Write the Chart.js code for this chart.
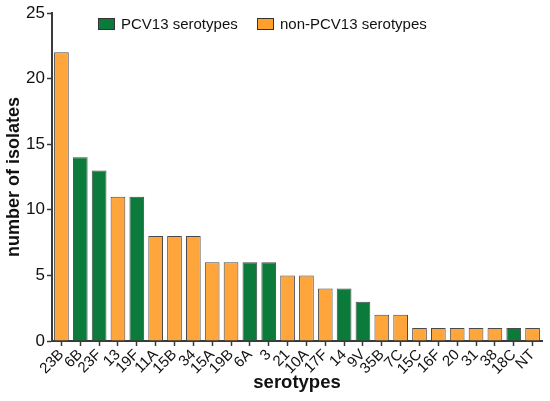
<!DOCTYPE html>
<html>
<head>
<meta charset="utf-8">
<script src="https://cdn.jsdelivr.net/npm/chart.js@4"></script>
<style>
  body { margin: 0; background: #fff; font-family: "Liberation Sans", Arial, sans-serif; }
  #wrap { position: relative; width: 550px; height: 401px; }
  .legend { position: absolute; top: 15px; font-size: 15px; color: #111; display: flex; align-items: center; }
  .legend span.box { display: inline-block; width: 15px; height: 10px; border: 1px solid #333; margin-right: 6px; }
</style>
</head>
<body>
<div id="wrap">
  <canvas id="chart" width="550" height="401"></canvas>
  <div class="legend" style="left:98px"><span class="box" style="background:#0b7a3a"></span>PCV13 serotypes</div>
  <div class="legend" style="left:257px"><span class="box" style="background:#ff9f2e"></span>non-PCV13 serotypes</div>
</div>
<script>
// data
const serotypes = ['23B', '6B', '23F', '13', '19F', '11A', '15B', '34', '15A', '19B', '6A', '3', '21',
    '10A', '17F', '14', '9V', '35B', '7C', '15C', '16F', '20', '31', '38', '18C', 'NT'];
const isolates = [22, 14, 13, 11, 11, 8, 8, 8, 6, 6, 6, 6, 5, 5, 4, 4, 3, 2, 2, 1, 1, 1, 1, 1, 1, 1];
const pcv13 = ['6B', '23F', '19F', '6A', '3', '14', '9V', '18C'];
const yTicks = [0, 5, 10, 15, 20, 25];

const GREEN = '#0b7a3a';
const ORANGE = '#fea53c';
const AXIS = '#3a3a3a';

const barColors = serotypes.map(s => pcv13.includes(s) ? GREEN : ORANGE);

new Chart(document.getElementById('chart').getContext('2d'), {
    type: 'bar',
    data: {
        labels: serotypes,
        datasets: [{
            data: isolates,
            backgroundColor: barColors,
            borderColor: '#4a4a4a',
            borderWidth: { top: 1, left: 1, right: 1, bottom: 0 },
            barPercentage: 0.78,
            categoryPercentage: 1.0
        }]
    },
    options: {
        responsive: false,
        animation: false,
        layout: { padding: { top: 13, right: 8, bottom: 6, left: 0 } },
        plugins: { legend: { display: false }, tooltip: { enabled: false } },
        scales: {
            x: {
                offset: true,
                grid: { display: true, drawOnChartArea: false, offset: false, tickLength: 5, tickColor: AXIS, tickWidth: 1.5 },
                border: { color: AXIS, width: 2 },
                ticks: {
                    autoSkip: false, minRotation: 45, maxRotation: 45, padding: 0,
                    color: '#111', font: { family: 'Liberation Sans', size: 15 }
                },
                title: {
                    display: true, text: 'serotypes', color: '#111',
                    font: { family: 'Liberation Sans', size: 18.5, weight: 'bold' },
                    padding: { top: 0, bottom: 1 }
                },
                afterFit: s => { s.height = 54; }
            },
            y: {
                min: 0, max: 25,
                afterBuildTicks: s => { s.ticks = yTicks.map(v => ({ value: v })); },
                grid: { display: true, drawOnChartArea: false, tickLength: 5, tickColor: AXIS, tickWidth: 1.5 },
                border: { color: AXIS, width: 2 },
                ticks: { padding: 2, color: '#111', font: { family: 'Liberation Sans', size: 17 } },
                title: {
                    display: true, text: 'number of isolates', color: '#111',
                    font: { family: 'Liberation Sans', size: 18, weight: 'bold' },
                    padding: { top: 3, bottom: 0 }
                },
                afterFit: s => { s.width = 52; }
            }
        }
    }
});
</script>
</body>
</html>
